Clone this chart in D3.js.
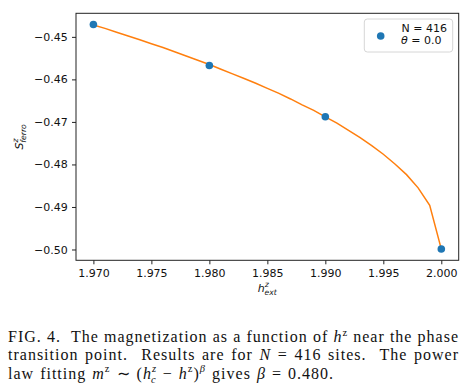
<!DOCTYPE html>
<html><head><meta charset="utf-8">
<script src="https://cdn.jsdelivr.net/npm/d3@7"></script>
<style>
html,body{margin:0;padding:0;background:#fff;}
svg{display:block;}
.cap{font-family:"Liberation Serif","Times New Roman",serif;font-size:16px;letter-spacing:1px;fill:#111;white-space:pre;}
.tk text{font-family:"DejaVu Sans",sans-serif;font-size:11px;fill:#111;}
</style></head><body>
<svg id="chart" width="474" height="392"></svg>
<script>
// ---- data ----
const hExt = [1.970, 1.980, 1.990, 2.000];
const sFerro = [-0.4471, -0.45675, -0.4688, -0.4999];
const fitH = [1.970,1.971,1.972,1.973,1.974,1.975,1.976,1.977,1.978,1.979,
              1.980,1.981,1.982,1.983,1.984,1.985,1.986,1.987,1.988,1.989,
              1.990,1.991,1.992,1.993,1.994,1.995,1.996,1.997,1.998,1.999,2.000];
const fitS = [-0.4472,-0.4480,-0.4489,-0.4498,-0.4507,-0.4516,-0.4525,-0.4535,-0.4545,-0.4555,
              -0.4565,-0.4576,-0.4587,-0.4598,-0.4609,-0.4621,-0.4633,-0.4646,-0.4660,-0.4673,
              -0.4688,-0.4703,-0.4720,-0.4737,-0.4756,-0.4776,-0.4799,-0.4824,-0.4855,-0.4896,-0.4999];
const xTicks = [1.970, 1.975, 1.980, 1.985, 1.990, 1.995, 2.000];
const yTicks = [-0.45, -0.46, -0.47, -0.48, -0.49, -0.50];
const xDomain = [1.9685, 2.0015];
const yDomain = [-0.50254, -0.44446];

// ---- layout ----
const L = 76, R = 458.7, T = 13.3, B = 260.3;
const svg = d3.select("#chart");
const x = d3.scaleLinear().domain(xDomain).range([L, R]);
const y = d3.scaleLinear().domain(yDomain).range([B, T]);
const blue = "#1f77b4", orange = "#ff7f0e";

// axes
const gx = svg.append("g").attr("class","tk").attr("transform",`translate(0,${B})`)
  .call(d3.axisBottom(x).tickValues(xTicks).tickFormat(d3.format(".3f")).tickSize(4).tickPadding(5));
const gy = svg.append("g").attr("class","tk").attr("transform",`translate(${L},0)`)
  .call(d3.axisLeft(y).tickValues(yTicks).tickFormat(d3.format(".2f")).tickSize(4).tickPadding(4.3));
[gx, gy].forEach(g => {
  g.select(".domain").remove();
  g.selectAll(".tick line").attr("stroke","#222").attr("stroke-width",1);
  g.attr("font-family", null).attr("font-size", null);
});

// fit line
svg.append("path")
  .datum(fitH.map((h,i)=>[h, fitS[i]]))
  .attr("fill","none").attr("stroke",orange).attr("stroke-width",1.5)
  .attr("d", d3.line().x(d=>x(d[0])).y(d=>y(d[1])));

// points
svg.selectAll("circle.pt").data(hExt.map((h,i)=>[h, sFerro[i]])).enter()
  .append("circle").attr("class","pt")
  .attr("cx", d=>x(d[0])).attr("cy", d=>y(d[1])).attr("r", 3.8).attr("fill", blue);

// frame
svg.append("rect").attr("x",L).attr("y",T).attr("width",R-L).attr("height",B-T)
  .attr("fill","none").attr("stroke","#222").attr("stroke-width",1);

// legend
const lg = svg.append("g");
lg.append("rect").attr("x",364.3).attr("y",19).attr("width",88.4).attr("height",33)
  .attr("rx",3).attr("fill","#fff").attr("fill-opacity",0.8).attr("stroke","#d6d6d6").attr("stroke-width",1);
lg.append("circle").attr("cx",380.7).attr("cy",36).attr("r",3.8).attr("fill",blue);
lg.append("text").attr("x",401.5).attr("y",32.3)
  .style("font-family","DejaVu Sans, sans-serif").style("font-size","11px").attr("fill","#111")
  .text("N = 416");
const lt2 = lg.append("text").attr("x",401).attr("y",43.8)
  .style("font-family","DejaVu Sans, sans-serif").style("font-size","11px").attr("fill","#111");
lt2.append("tspan").style("font-style","italic").text("θ");
lt2.append("tspan").text(" = 0.0");

// x label h^z_ext
const xl = svg.append("text").attr("x",(L+R)/2).attr("y",292).attr("text-anchor","middle")
  .style("font-family","DejaVu Sans, sans-serif").style("font-size","11px").attr("fill","#111")
  .style("font-style","italic");
xl.append("tspan").text("h");
xl.append("tspan").attr("dy",-5).style("font-size","7.7px").text("z");
xl.append("tspan").attr("dx",-4.3).attr("dy",8).style("font-size","7.7px").text("ext");

// y label S^z_ferro
const yl = svg.append("text").attr("transform",`translate(23,${(T+B)/2}) rotate(-90)`)
  .attr("text-anchor","middle")
  .style("font-family","DejaVu Sans, sans-serif").style("font-size","11px").attr("fill","#111")
  .style("font-style","italic");
yl.append("tspan").text("S");
yl.append("tspan").attr("dy",-5).style("font-size","7.7px").text("z");
yl.append("tspan").attr("dx",-4.3).attr("dy",8).style("font-size","7.7px").text("ferro");

// caption
const capX = 8;
const capBase = [342, 360.3, 378.7];
const capTarget = [451, 451, 326];
function cap(yb) {
  return svg.append("text").attr("class","cap").attr("x",capX).attr("y",yb);
}
const sup = "10.5px";
const c1 = cap(capBase[0]);
c1.append("tspan").text("FIG. 4.  The magnetization as a function of ");
c1.append("tspan").style("font-style","italic").text("h");
c1.append("tspan").attr("dy",-6.5).style("font-size",sup).text("z");
c1.append("tspan").attr("dy",6.5).text(" near the phase");

const c2 = cap(capBase[1]);
c2.append("tspan").text("transition point.  Results are for ");
c2.append("tspan").style("font-style","italic").text("N");
c2.append("tspan").text(" = 416 sites.  The power");

const c3 = cap(capBase[2]);
c3.append("tspan").text("law fitting ");
c3.append("tspan").style("font-style","italic").text("m");
c3.append("tspan").attr("dy",-6.5).style("font-size",sup).text("z");
c3.append("tspan").attr("dy",6.5).text(" ∼ (");
c3.append("tspan").style("font-style","italic").text("h");
c3.append("tspan").attr("dy",-6.5).style("font-size",sup).style("font-style","italic").text("z");
c3.append("tspan").attr("dx",-6).attr("dy",10.5).style("font-size",sup).style("font-style","italic").text("c");
c3.append("tspan").attr("dy",-4).text(" − ");
c3.append("tspan").style("font-style","italic").text("h");
c3.append("tspan").attr("dy",-6.5).style("font-size",sup).text("z");
c3.append("tspan").attr("dy",6.5).text(")");
c3.append("tspan").attr("dy",-7).style("font-size",sup).style("font-style","italic").text("β");
c3.append("tspan").attr("dy",7).text(" gives ");
c3.append("tspan").style("font-style","italic").text("β");
c3.append("tspan").text(" = 0.480.");

// justify each line to its measured width in the reference
[c1,c2,c3].forEach((c,i) => {
  const bb = c.node().getBBox();
  const w = bb.width;
  const nsp = (c.text().match(/ /g) || []).length;
  if (nsp > 0 && w > 0) c.style("word-spacing", Math.max(-2, (capTarget[i] - w) / nsp) + "px");
});
</script>
</body></html>
